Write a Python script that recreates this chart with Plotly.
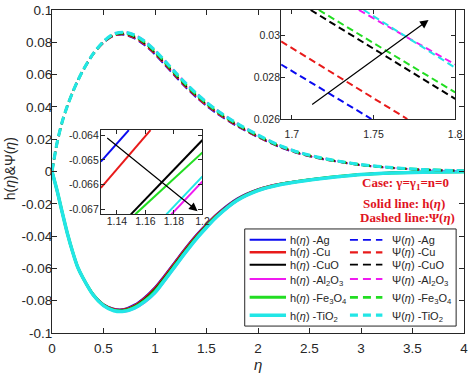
import plotly.graph_objects as go

# ---------------- data ----------------
ETA = [0, 0.05, 0.1, 0.15, 0.2, 0.25, 0.3, 0.4, 0.5, 0.6, 0.7, 0.8, 0.9, 1.0, 1.1, 1.2,
       1.3, 1.4, 1.5, 1.6, 1.8, 2.0, 2.2, 2.4, 2.6, 2.8, 3.0, 3.3, 3.6, 4.0]

MATERIALS = ["Ag", "Cu", "CuO", "Al<sub>2</sub>O<sub>3</sub>", "Fe<sub>3</sub>O<sub>4</sub>", "TiO<sub>2</sub>"]

H_AG = [0, -0.012, -0.0255, -0.0385, -0.0497, -0.0593, -0.0658,
        -0.0760, -0.0822, -0.0850, -0.0852, -0.0825, -0.0778, -0.0716, -0.0637, -0.0553, -0.0470,
        -0.0393, -0.0325, -0.0263, -0.0167, -0.0110, -0.0078, -0.0058, -0.0042, -0.0029, -0.0018,
        -0.0008, -0.0003, -0.0001]
H_CU = [0, -0.012, -0.0255, -0.0385, -0.0497, -0.0593, -0.0658,
        -0.0761, -0.0824, -0.0853, -0.0855, -0.0830, -0.0784, -0.0722, -0.0644, -0.0560, -0.0476,
        -0.0399, -0.0330, -0.0267, -0.0170, -0.0112, -0.0079, -0.0059, -0.0043, -0.0029, -0.0018,
        -0.0008, -0.0003, -0.0001]
H_CUO = [0, -0.012, -0.0255, -0.0385, -0.0497, -0.0593, -0.0658,
         -0.0762, -0.0826, -0.0856, -0.0858, -0.0835, -0.0791, -0.0730, -0.0652, -0.0568, -0.0483,
         -0.0405, -0.0335, -0.0272, -0.0173, -0.0114, -0.0080, -0.0060, -0.0043, -0.0030, -0.0019,
         -0.0008, -0.0003, -0.0001]
H_AL2O3 = [0, -0.012, -0.0255, -0.0385, -0.0497, -0.0593, -0.0658,
           -0.0766, -0.0831, -0.0863, -0.0868, -0.0849, -0.0810, -0.0754, -0.0673, -0.0588, -0.0502,
           -0.0421, -0.0350, -0.0284, -0.0181, -0.0120, -0.0085, -0.0063, -0.0046, -0.0031, -0.0020,
           -0.0009, -0.0004, -0.0001]
H_FE3O4 = [0, -0.012, -0.0255, -0.0385, -0.0497, -0.0593, -0.0658,
           -0.0763, -0.0828, -0.0859, -0.0862, -0.0840, -0.0799, -0.0740, -0.0660, -0.0576, -0.0491,
           -0.0412, -0.0341, -0.0277, -0.0176, -0.0116, -0.0082, -0.0061, -0.0044, -0.0030, -0.0019,
           -0.0009, -0.0003, -0.0001]
H_TIO2 = [0, -0.012, -0.0255, -0.0385, -0.0497, -0.0593, -0.0658,
          -0.0765, -0.0830, -0.0862, -0.0866, -0.0846, -0.0806, -0.0750, -0.0668, -0.0583, -0.0498,
          -0.0418, -0.0347, -0.0280, -0.0178, -0.0118, -0.0084, -0.0062, -0.0045, -0.0031, -0.0019,
          -0.0009, -0.0004, -0.0001]

PSI_AG = [0, 0.0180, 0.0310, 0.0408, 0.0490, 0.0562, 0.0625,
          0.0726, 0.0797, 0.0840, 0.0846, 0.0824, 0.0781, 0.0724, 0.0656, 0.0586, 0.0519,
          0.0459, 0.0406, 0.0359, 0.0279, 0.0212, 0.0153, 0.0110, 0.0080, 0.0058, 0.0039,
          0.0022, 0.0011, 0.0004]
PSI_CU = [0, 0.0180, 0.0310, 0.0408, 0.0490, 0.0562, 0.0625,
          0.0727, 0.0799, 0.0843, 0.0850, 0.0829, 0.0787, 0.0730, 0.0662, 0.0592, 0.0525,
          0.0465, 0.0411, 0.0364, 0.0283, 0.0215, 0.0156, 0.0112, 0.0081, 0.0059, 0.0040,
          0.0022, 0.0011, 0.0004]
PSI_CUO = [0, 0.0180, 0.0310, 0.0408, 0.0490, 0.0562, 0.0625,
           0.0728, 0.0801, 0.0846, 0.0854, 0.0834, 0.0793, 0.0736, 0.0668, 0.0598, 0.0531,
           0.0471, 0.0417, 0.0369, 0.0287, 0.0219, 0.0159, 0.0114, 0.0083, 0.0060, 0.0041,
           0.0023, 0.0011, 0.0004]
PSI_AL2O3 = [0, 0.0180, 0.0310, 0.0408, 0.0490, 0.0562, 0.0625,
             0.0730, 0.0806, 0.0853, 0.0864, 0.0848, 0.0809, 0.0753, 0.0685, 0.0615, 0.0548,
             0.0487, 0.0432, 0.0383, 0.0298, 0.0228, 0.0166, 0.0119, 0.0087, 0.0063, 0.0043,
             0.0024, 0.0012, 0.0004]
PSI_FE3O4 = [0, 0.0180, 0.0310, 0.0408, 0.0490, 0.0562, 0.0625,
             0.0729, 0.0803, 0.0849, 0.0858, 0.0839, 0.0799, 0.0742, 0.0674, 0.0604, 0.0537,
             0.0477, 0.0422, 0.0374, 0.0291, 0.0222, 0.0161, 0.0116, 0.0084, 0.0061, 0.0042,
             0.0023, 0.0012, 0.0004]
PSI_TIO2 = [0, 0.0180, 0.0310, 0.0408, 0.0490, 0.0562, 0.0625,
            0.0730, 0.0805, 0.0852, 0.0862, 0.0845, 0.0806, 0.0750, 0.0682, 0.0612, 0.0545,
            0.0484, 0.0429, 0.0380, 0.0296, 0.0226, 0.0164, 0.0118, 0.0086, 0.0062, 0.0043,
            0.0024, 0.0012, 0.0004]

# zoom-in 1 (Psi near eta 1.7-1.8): segment start/end per material (Ag, Cu, CuO, Al2O3, Fe3O4, TiO2)
Z1_ETA0 = [1.6934, 1.6934, 1.7115, 1.7410, 1.7165, 1.7440]
Z1_PSI0 = [0.0286, 0.0297, 0.0312, 0.0312, 0.0312, 0.0312]
Z1_ETA1 = [1.7487, 1.7707, 1.8000, 1.8000, 1.8000, 1.8000]
Z1_PSI1 = [0.0260, 0.0260, 0.02696, 0.0286, 0.02727, 0.02845]
Z1_ARROW = [1.7115, 0.02664, 1.7837, 0.03072]   # tail eta, tail psi, head eta, head psi

# zoom-in 2 (h near eta 1.13-1.2)
Z2_ETA0 = [1.1288, 1.1288, 1.1498, 1.1782, 1.1529, 1.1747]
Z2_H0 = [-0.06507, -0.06613, -0.0672, -0.0672, -0.0672, -0.0672]
Z2_ETA1 = [1.1484, 1.1636, 1.2000, 1.2000, 1.2000, 1.2000]
Z2_H1 = [-0.0638, -0.0638, -0.0642, -0.06587, -0.0647, -0.06567]
Z2_ARROW = [1.1322, -0.06407, 1.1966, -0.06707]

X_TICKS = [0, 0.5, 1, 1.5, 2, 2.5, 3, 3.5, 4]
X_TICKTEXT = ["0", "0.5", "1", "1.5", "2", "2.5", "3", "3.5", "4"]
Y_TICKS = [-0.1, -0.08, -0.06, -0.04, -0.02, 0, 0.02, 0.04, 0.06, 0.08, 0.1]
Y_TICKTEXT = ["-0.1", "-0.08", "-0.06", "-0.04", "-0.02", "0", "0.02", "0.04", "0.06", "0.08", "0.1"]
Z1_XTICKS = [1.7, 1.75, 1.8]
Z1_YTICKS = [0.026, 0.028, 0.03]
Z1_YTICKTEXT = ["0.026", "0.028", "0.03"]
Z2_XTICKS = [1.14, 1.16, 1.18, 1.2]
Z2_YTICKS = [-0.067, -0.066, -0.065, -0.064]
Z2_YTICKTEXT = ["-0.067", "-0.066", "-0.065", "-0.064"]

# ---------------- styling ----------------
H_SERIES = [H_AG, H_CU, H_CUO, H_AL2O3, H_FE3O4, H_TIO2]
PSI_SERIES = [PSI_AG, PSI_CU, PSI_CUO, PSI_AL2O3, PSI_FE3O4, PSI_TIO2]
COLORS = ["#0a0af0", "#e81a1a", "#000000", "#f01af0", "#22dd22", "#22e6e6"]
WIDTHS = [2, 2.5, 2, 2, 3, 3.5]
AXC = "#262626"
FONT = "Liberation Sans"

W, H = 474, 374
PL, PR, PT, PB = 52, 471, 7, 333


def fx(px):
    return (px - PL) / (PR - PL)


def fy(py):
    return (PB - py) / (PB - PT)


fig = go.Figure()

# main curves: solid h, then dashed Psi
for i in range(6):
    fig.add_trace(go.Scatter(x=ETA, y=H_SERIES[i], mode="lines", showlegend=False,
                             name="h(η) -" + MATERIALS[i],
                             line=dict(color=COLORS[i], width=WIDTHS[i], shape="spline", smoothing=0.8)))
for i in range(6):
    fig.add_trace(go.Scatter(x=ETA, y=PSI_SERIES[i], mode="lines", showlegend=False,
                             name="Ψ(η) -" + MATERIALS[i],
                             line=dict(color=COLORS[i], width=WIDTHS[i] * 0.9, dash="8px,4px",
                                       shape="spline", smoothing=0.8)))

# inset 1 (dashed psi)
for i in range(6):
    fig.add_trace(go.Scatter(x=[Z1_ETA0[i], Z1_ETA1[i]], y=[Z1_PSI0[i], Z1_PSI1[i]], mode="lines",
                             showlegend=False, xaxis="x2", yaxis="y2",
                             line=dict(color=COLORS[i], width=2, dash="7px,4px")))
# inset 2 (solid h)
for i in range(6):
    fig.add_trace(go.Scatter(x=[Z2_ETA0[i], Z2_ETA1[i]], y=[Z2_H0[i], Z2_H1[i]], mode="lines",
                             showlegend=False, xaxis="x3", yaxis="y3",
                             line=dict(color=COLORS[i], width=2)))

axis_common = dict(showline=True, linecolor=AXC, linewidth=1, mirror="ticks", ticks="inside",
                   tickcolor=AXC, showgrid=False, zeroline=False, tickmode="array",
                   ticklabeloverflow="allow")

fig.update_layout(
    width=W, height=H,
    margin=dict(l=PL, r=W - PR, t=PT, b=H - PB),
    paper_bgcolor="white", plot_bgcolor="white",
    showlegend=False,
    font=dict(family=FONT, color=AXC),
    xaxis=dict(domain=[0, 1], range=[0, 4], tickvals=X_TICKS, ticktext=X_TICKTEXT, ticklen=5,
               tickfont=dict(size=13.5, family=FONT, color=AXC), ticklabelstandoff=3, **axis_common),
    yaxis=dict(domain=[0, 1], range=[-0.1, 0.1], tickvals=Y_TICKS, ticktext=Y_TICKTEXT, ticklen=5,
               tickfont=dict(size=13.5, family=FONT, color=AXC), ticklabelstandoff=-4, **axis_common),
    xaxis2=dict(domain=[fx(285), fx(462)], range=[1.6934, 1.8], anchor="y2", tickvals=Z1_XTICKS,
                ticktext=["1.7", "1.75", "1.8"], ticklen=4,
                tickfont=dict(size=10.5, family=FONT, color=AXC), ticklabelstandoff=5, **axis_common),
    yaxis2=dict(domain=[fy(117), fy(7)], range=[0.026, 0.0312], anchor="x2", tickvals=Z1_YTICKS,
                ticktext=Z1_YTICKTEXT, ticklen=4,
                tickfont=dict(size=10.5, family=FONT, color=AXC), ticklabelstandoff=-2, **axis_common),
    xaxis3=dict(domain=[fx(101.7), fx(205)], range=[1.1288, 1.2], anchor="y3", tickvals=Z2_XTICKS,
                ticktext=["1.14", "1.16", "1.18", "1.2"], ticklen=4,
                tickfont=dict(size=10.5, family=FONT, color=AXC), ticklabelstandoff=-3, **axis_common),
    yaxis3=dict(domain=[fy(213), fy(128)], range=[-0.06719, -0.06379], anchor="x3", tickvals=Z2_YTICKS,
                ticktext=Z2_YTICKTEXT, ticklen=4,
                tickfont=dict(size=10.5, family=FONT, color=AXC), ticklabelstandoff=-1, **axis_common),
)

shapes = []
# white backgrounds of insets (below their traces)
shapes.append(dict(type="rect", xref="x2 domain", yref="y2 domain", x0=0, x1=1, y0=0, y1=1,
                   fillcolor="white", line=dict(width=0), layer="below"))
shapes.append(dict(type="rect", xref="x3 domain", yref="y3 domain", x0=0, x1=1, y0=0, y1=1,
                   fillcolor="white", line=dict(width=0), layer="below"))
# legend box
shapes.append(dict(type="rect", xref="paper", yref="paper", x0=fx(248), x1=fx(463), y0=fy(326), y1=fy(228),
                   fillcolor="white", line=dict(color=AXC, width=1), layer="above"))
ROWS = [239, 251.5, 264, 278.5, 297, 315]
annotations = []
for i in range(6):
    yy = fy(ROWS[i])
    shapes.append(dict(type="line", xref="paper", yref="paper", x0=fx(253), x1=fx(290), y0=yy, y1=yy,
                       line=dict(color=COLORS[i], width=WIDTHS[i]), layer="above"))
    shapes.append(dict(type="line", xref="paper", yref="paper", x0=fx(355), x1=fx(388), y0=yy, y1=yy,
                       line=dict(color=COLORS[i], width=WIDTHS[i] * 0.9, dash="8px,5px"), layer="above"))
    ty = fy(ROWS[i] + (2 if "<sub>" in MATERIALS[i] else 0))
    annotations.append(dict(xref="paper", yref="paper", x=fx(292), y=ty, xanchor="left", yanchor="middle",
                            showarrow=False, text="h(<i>η</i>) -" + MATERIALS[i],
                            font=dict(size=11, family=FONT, color=AXC)))
    annotations.append(dict(xref="paper", yref="paper", x=fx(396), y=ty, xanchor="left", yanchor="middle",
                            showarrow=False, text="Ψ(<i>η</i>) -" + MATERIALS[i],
                            font=dict(size=11, family=FONT, color=AXC)))

RED = "#e0141e"
SERIF = "Liberation Serif"
annotations += [
    dict(xref="paper", yref="paper", x=fx(412), y=fy(182), xanchor="center", yanchor="middle", showarrow=False,
         text="<b>Case: γ=γ<sub>1</sub>=n=0</b>", font=dict(size=13, family=SERIF, color=RED)),
    dict(xref="paper", yref="paper", x=fx(410), y=fy(202), xanchor="center", yanchor="middle", showarrow=False,
         text="<b>Solid line: h(<i>η</i>)</b>", font=dict(size=13, family=SERIF, color=RED)),
    dict(xref="paper", yref="paper", x=fx(414), y=fy(216), xanchor="center", yanchor="middle", showarrow=False,
         text="<b>Dashed line:Ψ(<i>η</i>)</b>", font=dict(size=13, family=SERIF, color=RED)),
    # axis titles
    dict(xref="paper", yref="paper", x=fx(261.5), y=fy(365), xanchor="center", yanchor="middle", showarrow=False,
         text="<i>η</i>", font=dict(size=15, family=FONT, color=AXC)),
    dict(xref="paper", yref="paper", x=fx(9), y=fy(167), xanchor="center", yanchor="middle", showarrow=False,
         textangle=-90, text="h(<i>η</i>)&amp;Ψ(<i>η</i>)", font=dict(size=14, family=FONT, color=AXC)),
    # arrows in insets
    dict(xref="x2", yref="y2", axref="x2", ayref="y2", x=Z1_ARROW[2], y=Z1_ARROW[3],
         ax=Z1_ARROW[0], ay=Z1_ARROW[1], text="", showarrow=True, arrowhead=2, arrowsize=1.4,
         arrowwidth=1.2, arrowcolor="black", standoff=0),
    dict(xref="x3", yref="y3", axref="x3", ayref="y3", x=Z2_ARROW[2], y=Z2_ARROW[3],
         ax=Z2_ARROW[0], ay=Z2_ARROW[1], text="", showarrow=True, arrowhead=2, arrowsize=1.4,
         arrowwidth=1.2, arrowcolor="black", standoff=0),
]

fig.update_layout(shapes=shapes, annotations=annotations)
fig.write_html("out.html", config={"displayModeBar": False},
               post_script="document.body.style.margin='0px';")
